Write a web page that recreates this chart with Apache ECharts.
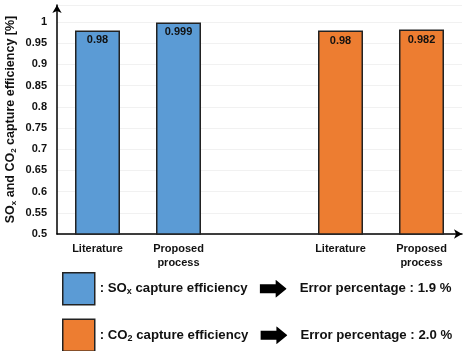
<!DOCTYPE html>
<html>
<head>
<meta charset="utf-8">
<script src="https://cdn.jsdelivr.net/npm/echarts@6/dist/echarts.min.js"></script>
<style>
  html, body { margin: 0; padding: 0; background: #fff; }
  #main { width: 474px; height: 351px; }
</style>
</head>
<body>
<div id="main"></div>
<script>
var categories = ['Literature', 'Proposed\nprocess', '', 'Literature', 'Proposed\nprocess'];
var soxValues = [0.98, 0.999, '-', '-', '-'];
var co2Values = ['-', '-', '-', 0.98, 0.982];
var errorSox = '1.9 %';
var errorCo2 = '2.0 %';

var myChart = echarts.init(document.getElementById('main'));

var font = 'Liberation Sans, Arial, sans-serif';
// block arrow drawn as a small svg used as text background
var arrowSvg = 'data:image/svg+xml;utf8,' + encodeURIComponent(
  '<svg xmlns="http://www.w3.org/2000/svg" width="27" height="18" viewBox="0 0 27 18">' +
  '<polygon points="0,4.5 16,4.5 16,0 27,9 16,18 16,13.5 0,13.5" fill="#000"/></svg>');
var arrowImg = new Image();
arrowImg.src = arrowSvg;

var legendRich = {
  a: { fontFamily: font, fontWeight: 'bold', fontSize: 13.2, color: '#111' },
  sub: { fontFamily: font, fontWeight: 'bold', fontSize: 9, color: '#111', padding: [6, 0, 0, 0] },
  sp: { width: 12, fontSize: 13 },
  sp2: { width: 13, fontSize: 13 },
  arr: { width: 27, height: 18, fontSize: 13, backgroundColor: { image: arrowImg } }
};

option = {
  backgroundColor: '#fff',
  animation: false,
  grid: {
    left: 57,
    right: 12,
    top: 5,
    bottom: 117,
    outerBoundsMode: 'none'
  },
  legend: {
    orient: 'horizontal',
    left: 62,
    top: 272,
    width: 400,
    padding: 0,
    itemWidth: 32,
    itemHeight: 32,
    itemGap: 13,
    icon: 'rect',
    selectedMode: false,
    itemStyle: { borderColor: '#222', borderWidth: 1.5 },
    formatter: function (name) {
      var arrow = '{sp| }{arr| }{sp2| }';
      if (name === 'SOx') {
        return '{a|: SO}{sub|x}{a| capture efficiency}' + arrow + '{a|Error percentage : ' + errorSox + '}';
      }
      return '{a|: CO}{sub|2}{a| capture efficiency}' + arrow + '{a|Error percentage : ' + errorCo2 + '}';
    },
    textStyle: { rich: legendRich }
  },
  xAxis: {
    type: 'category',
    data: categories,
    axisTick: { show: false },
    axisLine: {
      symbol: ['none', 'arrow'],
      symbolSize: [7, 8],
      lineStyle: { color: '#000', width: 1.5 }
    },
    axisLabel: {
      fontFamily: font,
      fontWeight: 'bold',
      fontSize: 11,
      color: '#111',
      margin: 8,
      lineHeight: 14,
      interval: 0
    }
  },
  yAxis: {
    type: 'value',
    min: 0.5,
    max: 1.04,
    interval: 0.05,
    name: '{n|SO}{s|x}{n| and CO}{s|2}{n| capture efficiency [%]}',
    nameLocation: 'middle',
    nameGap: 39,
    nameMoveOverlap: false,
    nameTextStyle: {
      rich: {
        n: { fontFamily: font, fontWeight: 'bold', fontSize: 12.5, color: '#111' },
        s: { fontFamily: font, fontWeight: 'bold', fontSize: 8, color: '#111', padding: [6, 0, 0, 0] }
      }
    },
    axisLine: {
      show: true,
      symbol: ['none', 'arrow'],
      symbolSize: [7, 8],
      lineStyle: { color: '#000', width: 1.5 }
    },
    axisTick: { show: false },
    axisLabel: {
      fontFamily: font,
      fontWeight: 'bold',
      fontSize: 11,
      color: '#111',
      margin: 10,
      showMaxLabel: false,
      formatter: function (v) {
        if (v > 1.001) return '';
        return String(Math.round(v * 100) / 100);
      }
    },
    splitLine: {
      lineStyle: { color: '#f1f1f1', width: 1 }
    }
  },
  series: [
    {
      name: 'SOx',
      type: 'bar',
      barWidth: 45,
      barGap: '-100%',
      data: soxValues,
      itemStyle: { color: '#5b9bd5', borderColor: '#222', borderWidth: 1.5 },
      label: {
        show: true,
        position: 'insideTop',
        distance: 4,
        fontFamily: font,
        fontWeight: 'bold',
        fontSize: 11,
        color: '#111'
      }
    },
    {
      name: 'CO2',
      type: 'bar',
      barWidth: 45,
      barGap: '-100%',
      data: co2Values,
      itemStyle: { color: '#ed7d31', borderColor: '#222', borderWidth: 1.5 },
      label: {
        show: true,
        position: 'insideTop',
        distance: 5,
        fontFamily: font,
        fontWeight: 'bold',
        fontSize: 11,
        color: '#111'
      }
    }
  ]
};

myChart.setOption(option);
arrowImg.onload = function () {
  myChart.setOption(option, true);
};
window.onresize = function () {
  myChart.resize();
};
</script>
</body>
</html>
